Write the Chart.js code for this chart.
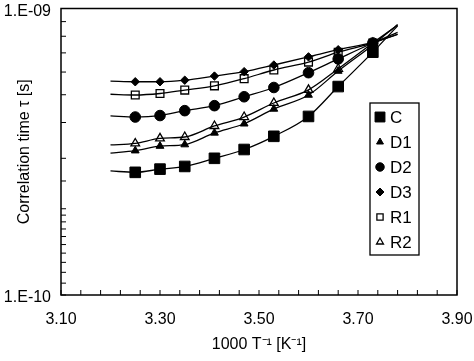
<!DOCTYPE html>
<html lang="en">
<head>
<meta charset="UTF-8">
<title>Correlation time</title>
<style>
  body { margin: 0; background: #fff; }
  canvas { display: block; }
</style>
</head>
<body>
<canvas id="tauChart" width="474" height="361"></canvas>
<script src="https://cdn.jsdelivr.net/npm/chart.js"></script>
<script>
// x values: 1000/T [1/K]
const invTemp = [3.25, 3.30, 3.35, 3.41, 3.47, 3.53, 3.60, 3.66, 3.73];
const seriesNames = ['C', 'D1', 'D2', 'D3', 'R1', 'R2'];

// correlation times, in units of 1e-10 s
const tauC  = [2.68, 2.75, 2.81, 3.00, 3.22, 3.58, 4.20, 5.34, 7.04];
const tauD1 = [3.19, 3.31, 3.35, 3.68, 3.96, 4.46, 4.99, 6.05, 7.46];
const tauD2 = [4.18, 4.23, 4.40, 4.58, 4.92, 5.30, 5.97, 6.67, 7.58];
const tauD3 = [5.55, 5.55, 5.62, 5.81, 6.02, 6.35, 6.78, 7.18, 7.62];
const tauR1 = [4.99, 5.05, 5.19, 5.37, 5.69, 6.10, 6.50, 7.04, 7.58];
const tauR2 = [3.38, 3.52, 3.56, 3.89, 4.18, 4.68, 5.20, 6.16, 7.58];

// trend curves run a little past the data on both sides
const curveFromX = 3.20;
const curveToX = 3.78;
const curveFrom = [2.71, 3.13, 4.22, 5.58, 5.02, 3.34];
const curveTo   = [8.70, 8.80, 8.26, 8.13, 8.13, 8.74];

const allTau = [tauC, tauD1, tauD2, tauD3, tauR1, tauR2];
const markerStyle = [
  { pointStyle: 'rect',     radius: 7.5, fill: '#000' },
  { pointStyle: 'triangle', radius: 4.5, fill: '#000' },
  { pointStyle: 'circle',   radius: 5.3, fill: '#000' },
  { pointStyle: 'rectRot',  radius: 4.2, fill: '#000' },
  { pointStyle: 'rect',     radius: 5.5, fill: '#fff' },
  { pointStyle: 'triangle', radius: 5,   fill: '#fff' }
];

const FONT = '"Liberation Sans", Arial, sans-serif';

const datasets = [];
allTau.forEach((tau, i) => {
  const pts = [{ x: curveFromX, y: curveFrom[i] * 1e-10 }];
  tau.forEach((v, j) => pts.push({ x: invTemp[j], y: v * 1e-10 }));
  pts.push({ x: curveToX, y: curveTo[i] * 1e-10 });
  datasets.push({
    label: seriesNames[i] + ' curve',
    data: pts,
    showLine: true,
    borderColor: '#000',
    borderWidth: 1.3,
    pointRadius: 0,
    cubicInterpolationMode: 'monotone',
    order: 0
  });
});
allTau.forEach((tau, i) => {
  const m = markerStyle[i];
  datasets.push({
    label: seriesNames[i],
    data: tau.map((v, j) => ({ x: invTemp[j], y: v * 1e-10 })),
    showLine: false,
    pointStyle: m.pointStyle,
    pointRadius: m.radius,
    pointBackgroundColor: m.fill,
    pointBorderColor: '#000',
    pointBorderWidth: m.fill === '#fff' ? 1.3 : 1,
    order: 1,
    isMarker: true
  });
});

// box around the plot and inward tick marks
const frame = {
  id: 'frame',
  afterDatasetsDraw(chart) {
    const { ctx, chartArea: a, scales } = chart;
    ctx.save();
    ctx.strokeStyle = '#000';
    ctx.lineWidth = 1;
    ctx.beginPath();
    scales.x.ticks.forEach(t => {
      const px = scales.x.getPixelForValue(t.value);
      ctx.moveTo(px, a.bottom);
      ctx.lineTo(px, a.bottom - 5);
    });
    scales.y.ticks.forEach(t => {
      const py = scales.y.getPixelForValue(t.value);
      ctx.moveTo(a.left, py);
      ctx.lineTo(a.left + 5, py);
    });
    ctx.stroke();
    ctx.lineWidth = 1.5;
    ctx.strokeRect(a.left, a.top, a.right - a.left, a.bottom - a.top);
    ctx.restore();
  }
};

// legend box inside the plot
const boxLegend = {
  id: 'boxLegend',
  afterDraw(chart) {
    const ctx = chart.ctx;
    const items = chart.data.datasets.filter(d => d.isMarker);
    const left = 370, top = 103, w = 49, h = 152;
    ctx.save();
    ctx.fillStyle = '#fff';
    ctx.fillRect(left, top, w, h);
    ctx.strokeStyle = '#000';
    ctx.lineWidth = 1.3;
    ctx.strokeRect(left, top, w, h);
    ctx.font = '17px ' + FONT;
    ctx.textBaseline = 'middle';
    items.forEach((d, i) => {
      const y = top + 14 + i * 25;
      const small = d.pointRadius * 0.8;
      ctx.fillStyle = d.pointBackgroundColor;
      ctx.strokeStyle = '#000';
      ctx.lineWidth = d.pointBorderWidth;
      Chart.helpers.drawPoint(ctx, {
        pointStyle: d.pointStyle, rotation: 0,
        radius: d.pointStyle === 'rect' && d.pointBackgroundColor === '#000' ? 7 : Math.max(small, 4),
        borderWidth: d.pointBorderWidth
      }, left + 10, y);
      ctx.fillStyle = '#000';
      ctx.fillText(d.label, left + 20, y + 1);
    });
    ctx.restore();
  }
};

function expLabel(v) {
  const e = Math.round(Math.log10(v));
  if (Math.abs(v / Math.pow(10, e) - 1) > 1e-6) return '';
  return '1.E' + (e < 0 ? '-' : '+') + String(Math.abs(e)).padStart(2, '0');
}

// keep tick labels from pushing the plot area inward
function noOverhang(s) {
  s.paddingTop = 0; s.paddingBottom = 0;
  s.paddingLeft = 0; s.paddingRight = 0;
}

new Chart(document.getElementById('tauChart'), {
  type: 'scatter',
  data: { datasets: datasets },
  options: {
    responsive: false,
    animation: false,
    layout: { padding: { top: 5, right: 17, left: 0, bottom: 0 } },
    plugins: { legend: { display: false }, tooltip: { enabled: false } },
    scales: {
      x: {
        type: 'linear',
        min: 3.10,
        max: 3.90,
        grid: { display: false, drawTicks: false },
        border: { display: false },
        ticks: {
          stepSize: 0.04,
          autoSkip: false,
          maxRotation: 0,
          padding: 15,
          color: '#000',
          font: { family: FONT, size: 16 },
          callback: (v, i) => (i % 5 === 0 ? Number(v).toFixed(2) : '')
        },
        title: {
          display: true,
          text: '1000 T⁻¹ [K⁻¹]',
          color: '#000',
          font: { family: FONT, size: 16 },
          padding: { top: 0, bottom: 7 }
        },
        afterFit: s => { s.height = 66; noOverhang(s); }
      },
      y: {
        type: 'logarithmic',
        min: 1e-10,
        max: 1e-9,
        grid: { display: false, drawTicks: false },
        border: { display: false },
        ticks: {
          autoSkip: false,
          padding: 10,
          labelOffset: 3,
          color: '#000',
          font: { family: FONT, size: 16 },
          callback: v => expLabel(v)
        },
        title: {
          display: true,
          text: 'Correlation time τ [s]',
          color: '#000',
          font: { family: FONT, size: 16 },
          padding: { top: 15, bottom: 0 }
        },
        afterFit: s => { s.width = 61; noOverhang(s); }
      }
    }
  },
  plugins: [frame, boxLegend]
});
</script>
</body>
</html>
